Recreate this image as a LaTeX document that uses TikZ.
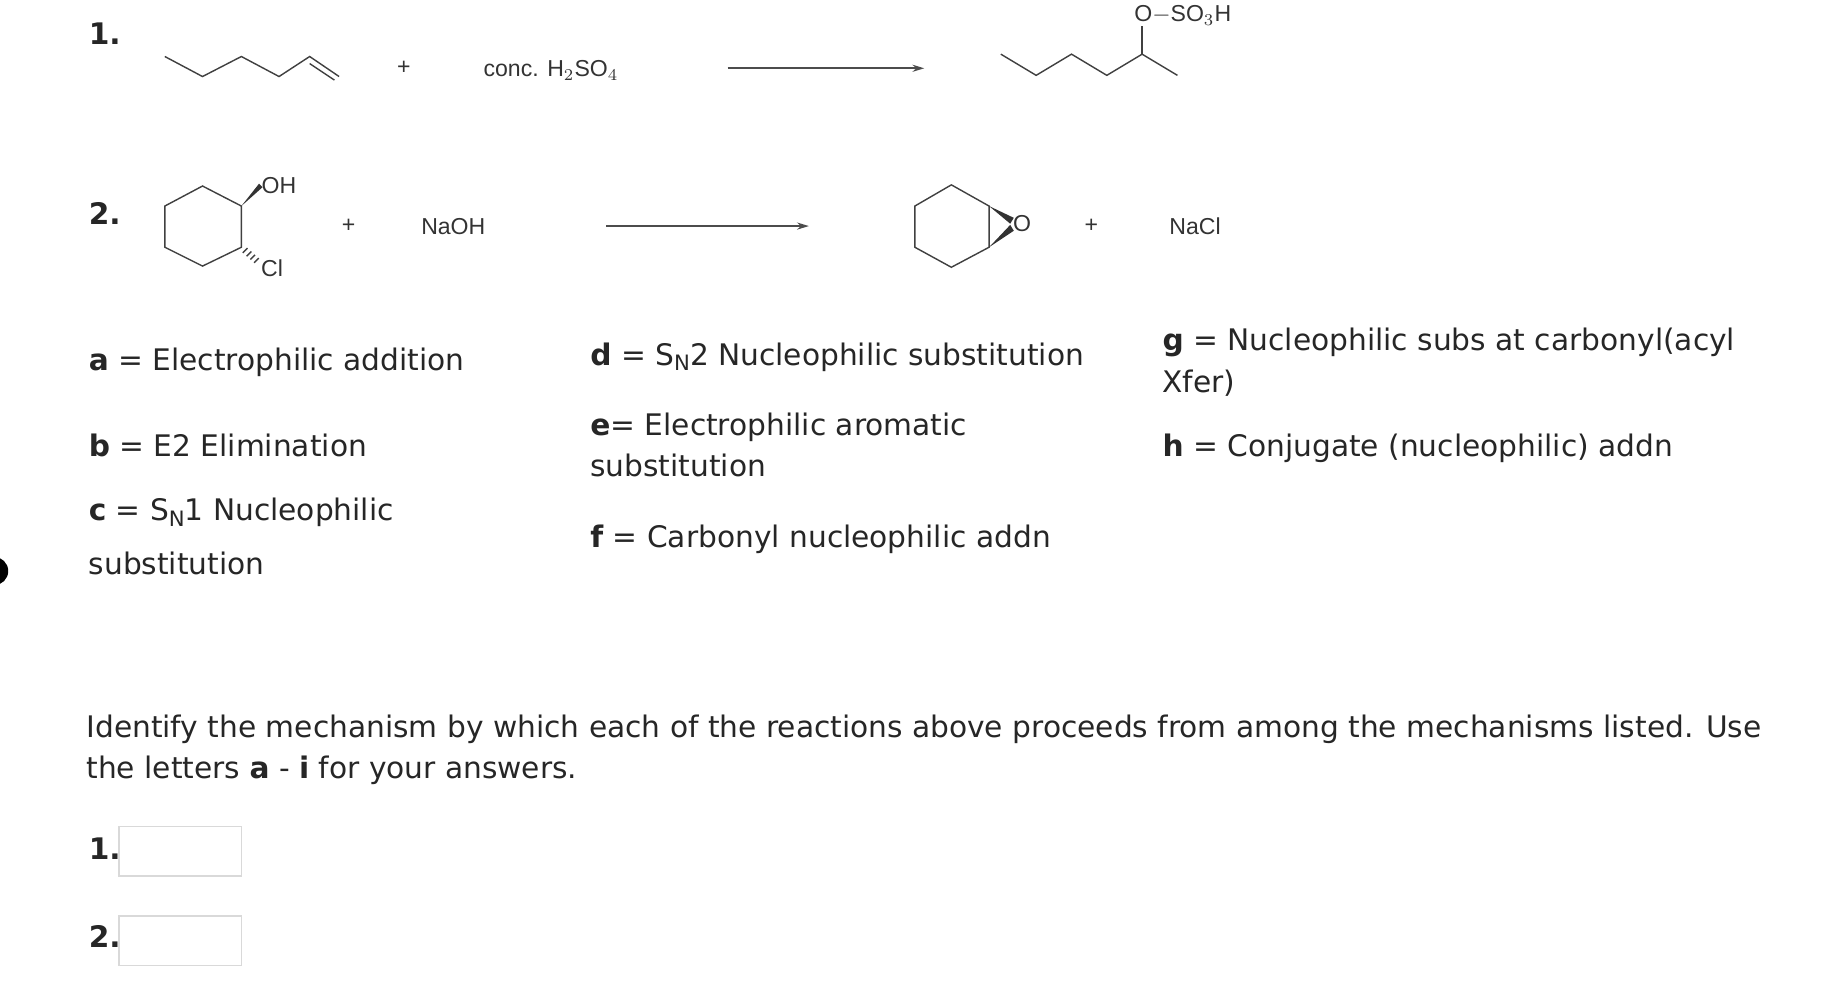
\documentclass[tikz,border=0pt]{standalone}
\usepackage{fontspec}
\setmainfont{DejaVu Sans}
\newfontfamily\chemf{Liberation Sans}
\usetikzlibrary{arrows.meta,calc}
\newcommand{\sn}{S\raisebox{-0.35ex}{\small N}}
\begin{document}
\begin{tikzpicture}[x=0.5pt,y=-0.5pt,
  txt/.style={anchor=base west,inner sep=0,font=\fontsize{12.6}{14}\selectfont,text=black!85},
  num/.style={txt,font=\bfseries\fontsize{12.6}{14}\selectfont},
  chem/.style={inner sep=0,font=\chemf\fontsize{9.8}{11}\selectfont,text=black!80},
  bond/.style={line width=0.6pt,black!75},
  rarrow/.style={line width=0.8pt,black!70,-{Stealth[length=5pt,width=3pt]}},
  abox/.style={draw=black!15,line width=0.6pt}]
\useasboundingbox (0,0) rectangle (1550,839);
% row 1
\node[num] (n1) at (75,38) {1.};
\draw[bond] (140,48)--(172,65)--(205,48)--(237,65)--(263,48)--(288,65);
\draw[bond] (263,54)--(284,68);
\node[chem] (p1) at (343,58) {+};
\node[chem] (r1) at (468,60) {conc. H$_2$SO$_4$};
\coordinate (a1s) at (618,58); \coordinate (a1e) at (785,58);
\draw[rarrow] (a1s)--(a1e);
\draw[bond] (850,46)--(880,64)--(910,46)--(940,64)--(970,46)--(1000,64);
\draw[bond] (970,46)--(970,22);
\node[chem,anchor=west] (os) at (963,13) {O$-$SO$_3$H};
% row 2
\node[num] (n2) at (75,191) {2.};
\draw[bond] (172,158)--(205,175)--(205,210)--(172,226)--(140,210)--(140,175)--cycle;
\fill[black!80] (205,175)--(223,159)--(220,156)--cycle;
\node[chem] (oh) at (237,158) {OH};
\foreach \t in {0.2,0.4,0.6,0.8}{\draw[bond] ($(205,210)!\t!(221,224)+(-2,2)$)--($(205,210)!\t!(221,224)+(2,-2)$);}
\node[chem] (cl) at (231,228) {Cl};
\node[chem] (p2) at (296,192) {+};
\node[chem] (r2) at (385,192) {NaOH};
\coordinate (a2s) at (515,192); \coordinate (a2e) at (687,192);
\draw[rarrow] (a2s)--(a2e);
\draw[bond] (808,157)--(840,175)--(840,210)--(808,227)--(777,210)--(777,175)--cycle;
\node[chem] (ep) at (868,190) {O};
\fill[black!80] (840,175)--(861,185)--(858,190)--cycle;
\fill[black!80] (840,210)--(861,196)--(858,191)--cycle;
\node[chem] (p3) at (927,192) {+};
\node[chem] (r3) at (1015,192) {NaCl};
% mechanisms
\node[txt] (ma) at (75,315) {\textbf{a} = Electrophilic addition};
\node[txt] (mb) at (75,388) {\textbf{b} = E2 Elimination};
\node[txt] (mc) at (75,442) {\textbf{c} = \sn1 Nucleophilic};
\node[txt] (mc2) at (75,488) {substitution};
\node[txt] (md) at (501,310) {\textbf{d} = \sn2 Nucleophilic substitution};
\node[txt] (me) at (501,370) {\textbf{e}= Electrophilic aromatic};
\node[txt] (me2) at (501,405) {substitution};
\node[txt] (mf) at (501,465) {\textbf{f} = Carbonyl nucleophilic addn};
\node[txt] (mg) at (987,298) {\textbf{g} = Nucleophilic subs at carbonyl(acyl};
\node[txt] (mg2) at (987,333) {Xfer)};
\node[txt] (mh) at (987,388) {\textbf{h} = Conjugate (nucleophilic) addn};
% question
\node[txt] (q1) at (73,626) {Identify the mechanism by which each of the reactions above proceeds from among the mechanisms listed. Use};
\node[txt] (q2) at (73,661) {the letters \textbf{a} - \textbf{i} for your answers.};
\node[num] (l1) at (75,730) {1.};
\draw[abox] (101,702) rectangle (205,744);
\node[num] (l2) at (75,805) {2.};
\draw[abox] (101,778) rectangle (205,820);
\begin{scope}
\clip (0,0) rectangle (1550,839);
\fill[black] (-5,485) circle (12);
\end{scope}
\end{tikzpicture}
\end{document}
